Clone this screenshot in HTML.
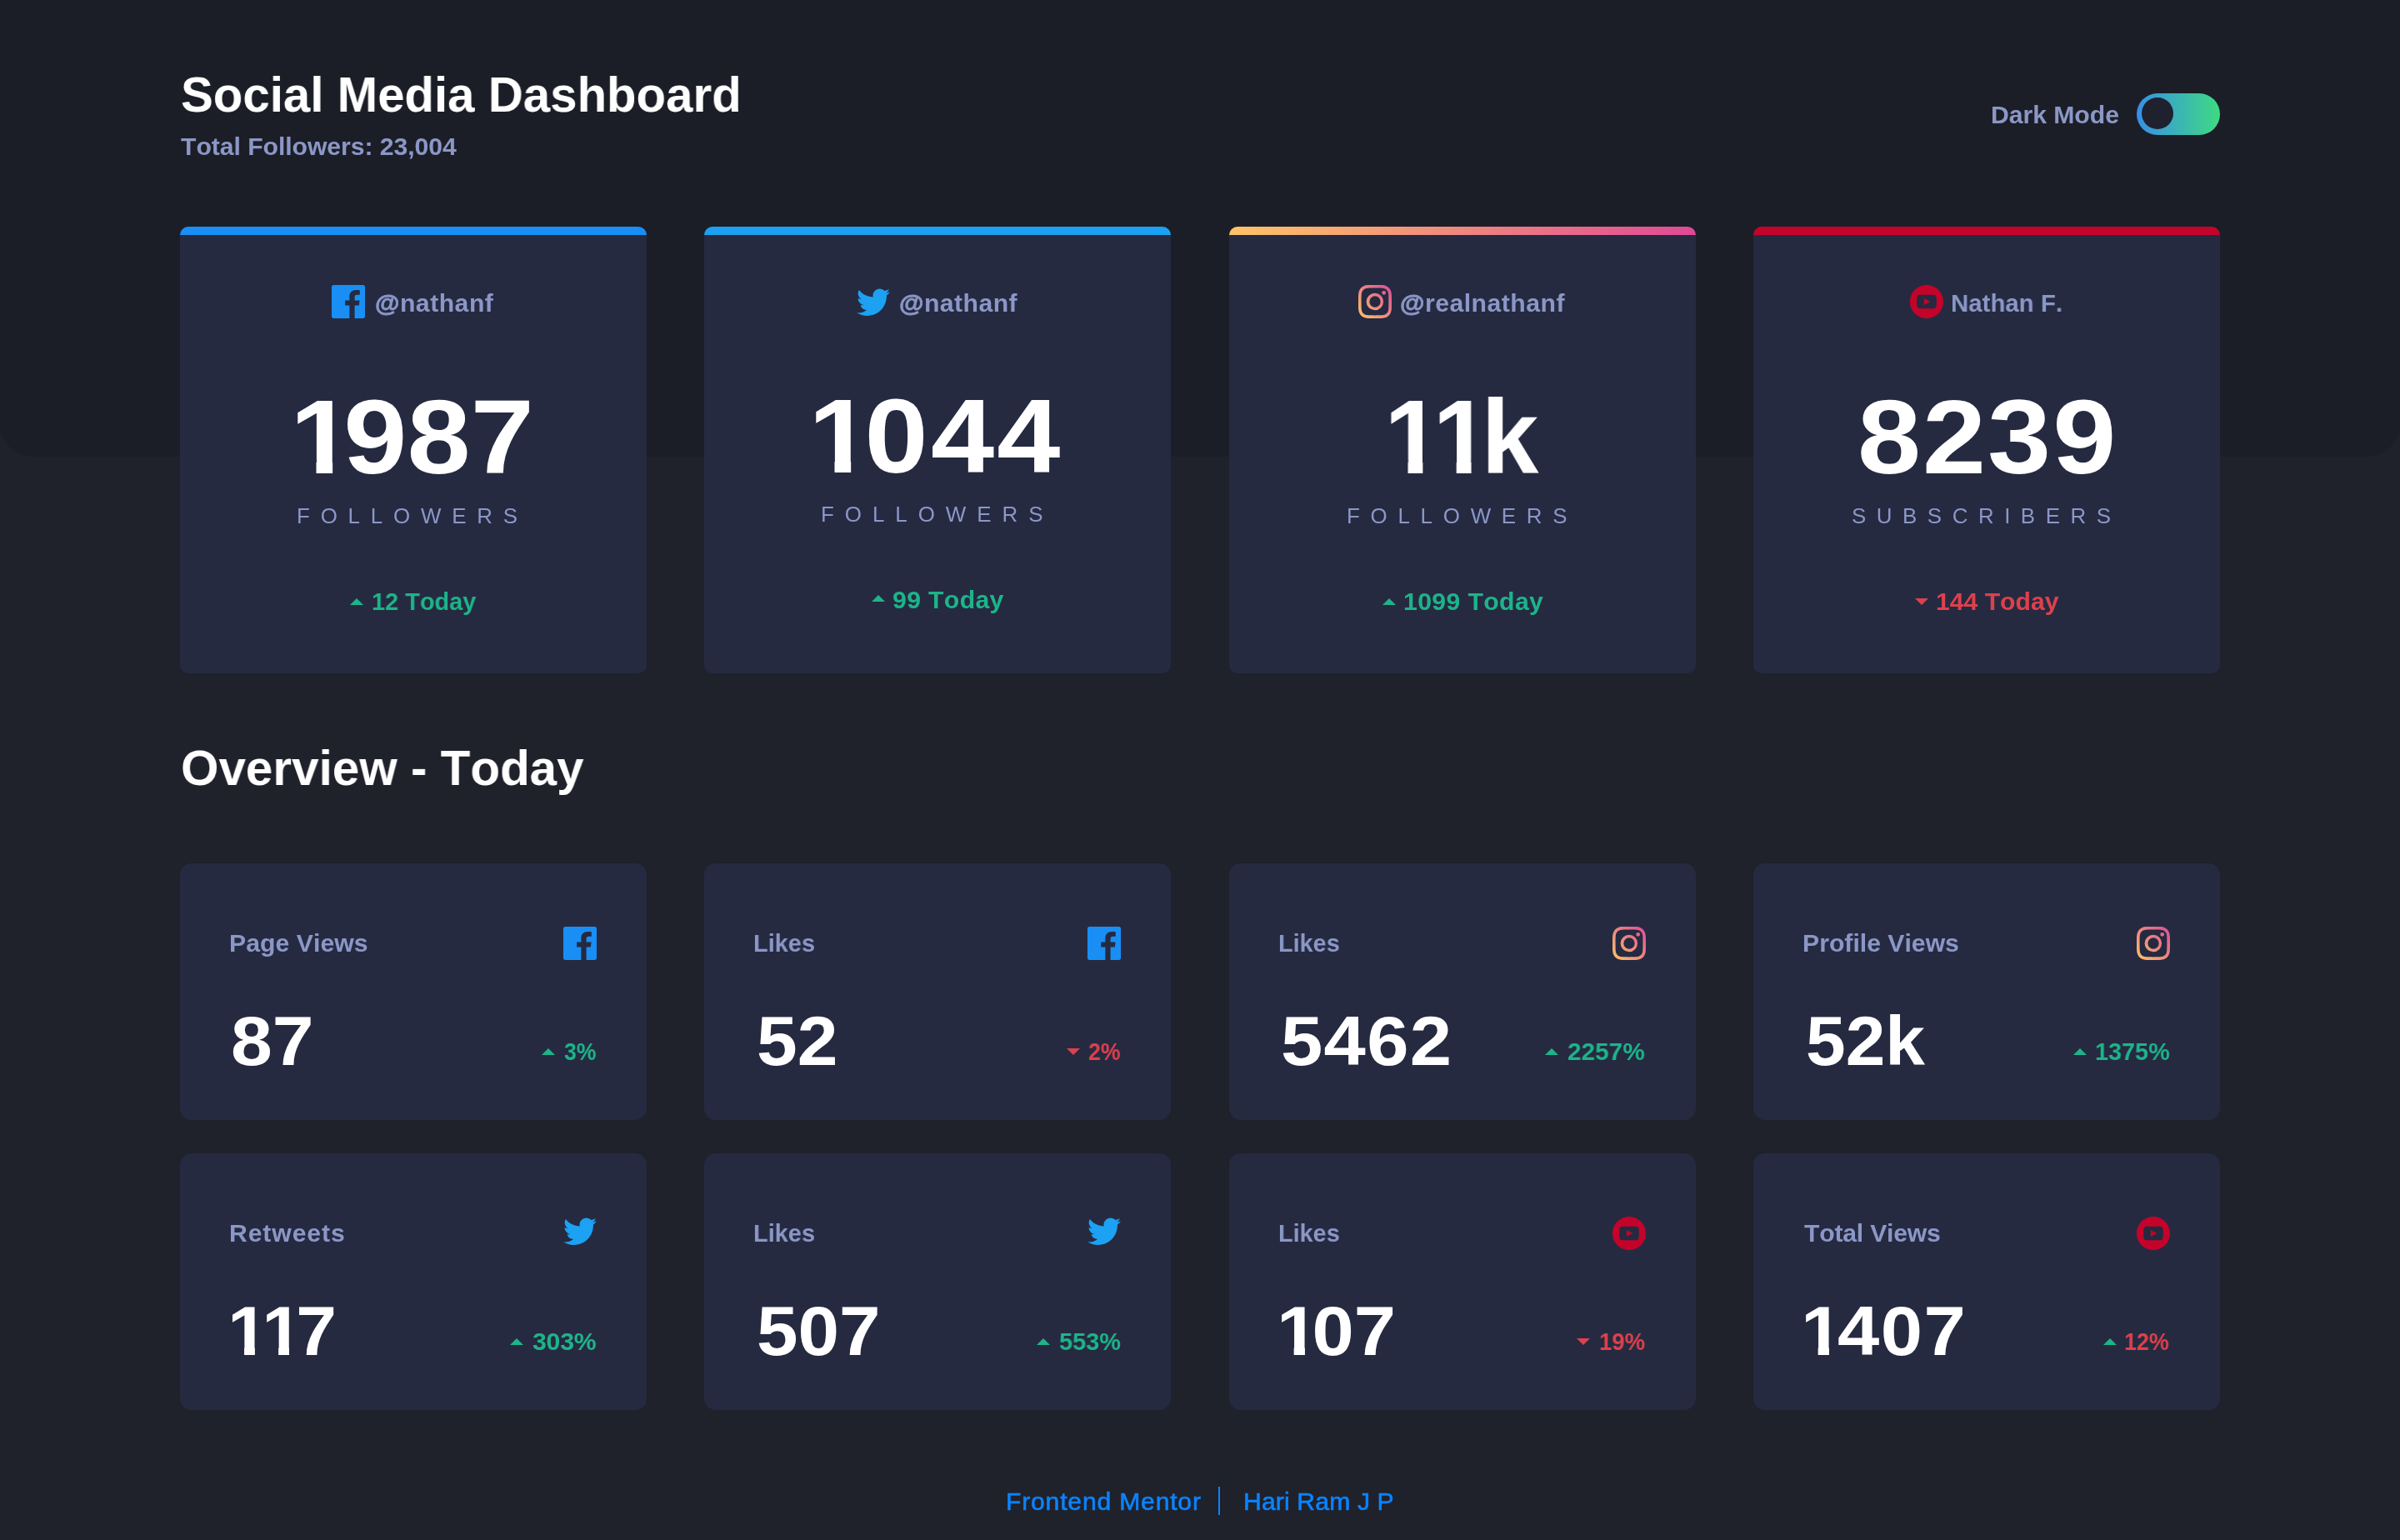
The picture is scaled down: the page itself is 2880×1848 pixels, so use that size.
<!DOCTYPE html>
<html lang="en">
<head>
<meta charset="utf-8">
<title>Social Media Dashboard</title>
<style>
*{box-sizing:border-box;margin:0;padding:0}
html,body{width:2880px;height:1848px;background:#1f212b;}
body{position:relative;font-family:"Liberation Sans",sans-serif;font-weight:700;font-kerning:none;}
.head{position:absolute;left:0;top:0;width:2880px;height:548px;background:#1c1e27;border-radius:0 0 40px 40px;}
.card{position:absolute;width:560px;background:#252a41;overflow:hidden;}
.big{height:536px;border-radius:10px;}
.small{height:308px;border-radius:14px;}
.bar{position:absolute;left:0;top:0;width:100%;height:10px;}
.t{position:absolute;white-space:nowrap;transform-origin:0 0;will-change:transform;}
.i{position:absolute;display:block;}
.at{-webkit-text-stroke:0.8px currentColor;}
.one{display:inline-block;}
.toggle{position:absolute;left:2564px;top:112px;width:100px;height:50px;border-radius:25px;background:linear-gradient(90deg,#378fe6,#3eda82);}
.knob{position:absolute;left:6px;top:5px;width:38px;height:38px;border-radius:50%;background:#1f212e;}
.sep{position:absolute;left:1461.5px;top:1784px;width:2.4px;height:34px;background:#0a84ff;}
</style>
</head>
<body>
<div class="head"></div>
<div class="toggle"><div class="knob"></div></div>
<div class="card big" style="left:216px;top:272px;"><div class="bar" style="background:#198ff5"></div></div>
<div class="card big" style="left:845.33px;top:272px;"><div class="bar" style="background:#1ca0f2"></div></div>
<div class="card big" style="left:1474.67px;top:272px;"><div class="bar" style="background:linear-gradient(90deg,#fdc468,#df4996)"></div></div>
<div class="card big" style="left:2104px;top:272px;"><div class="bar" style="background:#c4032a"></div></div>
<div class="card small" style="left:216px;top:1036px;"></div>
<div class="card small" style="left:845.33px;top:1036px;"></div>
<div class="card small" style="left:1474.67px;top:1036px;"></div>
<div class="card small" style="left:2104px;top:1036px;"></div>
<div class="card small" style="left:216px;top:1384px;"></div>
<div class="card small" style="left:845.33px;top:1384px;"></div>
<div class="card small" style="left:1474.67px;top:1384px;"></div>
<div class="card small" style="left:2104px;top:1384px;"></div>
<svg class="i" style="left:398px;top:342px" width="40" height="40" viewBox="0 0 20 20"><path fill="#198ff5" d="M18.896 0H1.104C.494 0 0 .494 0 1.104v17.793C0 19.506.494 20 1.104 20h9.58v-7.745H8.076V9.237h2.606V7.01c0-2.583 1.578-3.99 3.883-3.99 1.104 0 2.052.082 2.329.119v2.7h-1.598c-1.254 0-1.496.597-1.496 1.47v1.928h2.989l-.39 3.018h-2.6V20h5.098c.608 0 1.102-.494 1.102-1.104V1.104C20 .494 19.506 0 18.896 0z"/></svg>
<svg class="i" style="left:1028px;top:345.9px" width="40" height="34" viewBox="0 0 20 17"><path fill="#1da1f2" d="M20 2.172a8.192 8.192 0 01-2.357.646 4.11 4.11 0 001.805-2.27 8.22 8.22 0 01-2.606.996A4.096 4.096 0 0013.847.248c-2.65 0-4.596 2.472-3.998 5.037A11.648 11.648 0 011.392 1a4.109 4.109 0 001.27 5.478 4.086 4.086 0 01-1.858-.513c-.045 1.9 1.318 3.679 3.291 4.075a4.113 4.113 0 01-1.853.07 4.106 4.106 0 003.833 2.849A8.25 8.25 0 010 14.658a11.616 11.616 0 006.29 1.843c7.618 0 11.922-6.434 11.662-12.205A8.354 8.354 0 0020 2.172z"/></svg>
<svg class="i" style="left:1630px;top:342px" width="40" height="40" viewBox="0 0 20 20"><defs><linearGradient id="g1" x1="0%" y1="100%" x2="100%" y2="0%"><stop offset="0%" stop-color="#fdc366"/><stop offset="100%" stop-color="#db4c98"/></linearGradient></defs><path fill="url(#g1)" d="M10.003 0C7.285 0 6.945.012 5.878.06 4.813.11 4.086.278 3.45.525a4.902 4.902 0 00-1.772 1.153A4.9 4.9 0 00.525 3.45C.277 4.086.108 4.813.06 5.877.012 6.944 0 7.284 0 10s.012 3.056.06 4.122c.049 1.065.218 1.792.465 2.428a4.902 4.902 0 001.153 1.772 4.9 4.9 0 001.77 1.153c.637.247 1.364.416 2.428.465 1.067.048 1.407.06 4.123.06s3.056-.012 4.122-.06c1.065-.049 1.792-.218 2.428-.465a4.902 4.902 0 001.772-1.153 4.9 4.9 0 001.153-1.77c.247-.637.416-1.364.465-2.428.048-1.067.06-1.407.06-4.123s-.012-3.056-.06-4.122c-.049-1.065-.218-1.792-.465-2.428a4.902 4.902 0 00-1.153-1.772A4.9 4.9 0 0016.55.525C15.913.278 15.186.109 14.122.06 13.056.012 12.716 0 10 0h.003zm-.897 1.802h.897c2.67 0 2.987.01 4.04.058.976.045 1.505.207 1.858.344.466.182.8.399 1.15.748.35.35.566.684.748 1.15.137.353.3.882.344 1.857.048 1.055.058 1.37.058 4.04 0 2.668-.01 2.985-.058 4.04-.045.974-.207 1.503-.344 1.856-.182.466-.399.8-.748 1.15-.35.35-.683.566-1.15.747-.353.138-.882.3-1.857.345-1.054.048-1.37.058-4.04.058-2.67 0-2.987-.01-4.041-.058-.975-.045-1.504-.208-1.857-.345a3.098 3.098 0 01-1.15-.748 3.1 3.1 0 01-.748-1.15c-.137-.352-.3-.88-.344-1.856-.048-1.054-.058-1.37-.058-4.041 0-2.67.01-2.986.058-4.04.045-.975.207-1.504.344-1.857.182-.467.399-.8.748-1.15.35-.35.684-.566 1.15-.748.353-.137.882-.3 1.857-.345.922-.041 1.28-.054 3.144-.056v.003zm6.235 1.66a1.2 1.2 0 100 2.4 1.2 1.2 0 000-2.4zm-5.338 1.402a5.136 5.136 0 100 10.271 5.136 5.136 0 000-10.27zm0 1.802a3.333 3.333 0 110 6.667 3.333 3.333 0 010-6.667z"/></svg>
<svg class="i" style="left:2292px;top:342px" width="40" height="40" viewBox="0 0 20 20"><path fill="#c4032a" d="M10 0C4.477 0 0 4.477 0 10s4.477 10 10 10 10-4.477 10-10S15.523 0 10 0zm4.441 14.15H5.559c-.691 0-1.25-.559-1.25-1.25 0 0-.25-1.45-.25-2.9s.25-2.9.25-2.9c0-.691.559-1.25 1.25-1.25h8.882c.691 0 1.25.559 1.25 1.25 0 0 .25 1.45.25 2.9s-.25 2.9-.25 2.9c0 .691-.559 1.25-1.25 1.25z"/><path fill="#c4032a" d="M8.4 12V8l3.8 2z"/></svg>
<svg class="i" style="left:420.3px;top:718.3px" width="16" height="8" viewBox="0 0 8 4"><path fill="#1db489" d="M0 4l4-4 4 4z"/></svg>
<svg class="i" style="left:1046.2px;top:714.1px" width="16" height="8" viewBox="0 0 8 4"><path fill="#1db489" d="M0 4l4-4 4 4z"/></svg>
<svg class="i" style="left:1658.5px;top:718.3px" width="16" height="8" viewBox="0 0 8 4"><path fill="#1db489" d="M0 4l4-4 4 4z"/></svg>
<svg class="i" style="left:2298px;top:718.3px" width="16" height="8" viewBox="0 0 8 4"><path fill="#dc414c" d="M0 0l4 4 4-4z"/></svg>
<svg class="i" style="left:676px;top:1112px" width="40" height="40" viewBox="0 0 20 20"><path fill="#198ff5" d="M18.896 0H1.104C.494 0 0 .494 0 1.104v17.793C0 19.506.494 20 1.104 20h9.58v-7.745H8.076V9.237h2.606V7.01c0-2.583 1.578-3.99 3.883-3.99 1.104 0 2.052.082 2.329.119v2.7h-1.598c-1.254 0-1.496.597-1.496 1.47v1.928h2.989l-.39 3.018h-2.6V20h5.098c.608 0 1.102-.494 1.102-1.104V1.104C20 .494 19.506 0 18.896 0z"/></svg>
<svg class="i" style="left:650.2px;top:1258px" width="16" height="8" viewBox="0 0 8 4"><path fill="#1db489" d="M0 4l4-4 4 4z"/></svg>
<svg class="i" style="left:1305.33px;top:1112px" width="40" height="40" viewBox="0 0 20 20"><path fill="#198ff5" d="M18.896 0H1.104C.494 0 0 .494 0 1.104v17.793C0 19.506.494 20 1.104 20h9.58v-7.745H8.076V9.237h2.606V7.01c0-2.583 1.578-3.99 3.883-3.99 1.104 0 2.052.082 2.329.119v2.7h-1.598c-1.254 0-1.496.597-1.496 1.47v1.928h2.989l-.39 3.018h-2.6V20h5.098c.608 0 1.102-.494 1.102-1.104V1.104C20 .494 19.506 0 18.896 0z"/></svg>
<svg class="i" style="left:1280.2px;top:1258px" width="16" height="8" viewBox="0 0 8 4"><path fill="#dc414c" d="M0 0l4 4 4-4z"/></svg>
<svg class="i" style="left:1934.67px;top:1112px" width="40" height="40" viewBox="0 0 20 20"><defs><linearGradient id="g2" x1="0%" y1="100%" x2="100%" y2="0%"><stop offset="0%" stop-color="#fdc366"/><stop offset="100%" stop-color="#db4c98"/></linearGradient></defs><path fill="url(#g2)" d="M10.003 0C7.285 0 6.945.012 5.878.06 4.813.11 4.086.278 3.45.525a4.902 4.902 0 00-1.772 1.153A4.9 4.9 0 00.525 3.45C.277 4.086.108 4.813.06 5.877.012 6.944 0 7.284 0 10s.012 3.056.06 4.122c.049 1.065.218 1.792.465 2.428a4.902 4.902 0 001.153 1.772 4.9 4.9 0 001.77 1.153c.637.247 1.364.416 2.428.465 1.067.048 1.407.06 4.123.06s3.056-.012 4.122-.06c1.065-.049 1.792-.218 2.428-.465a4.902 4.902 0 001.772-1.153 4.9 4.9 0 001.153-1.77c.247-.637.416-1.364.465-2.428.048-1.067.06-1.407.06-4.123s-.012-3.056-.06-4.122c-.049-1.065-.218-1.792-.465-2.428a4.902 4.902 0 00-1.153-1.772A4.9 4.9 0 0016.55.525C15.913.278 15.186.109 14.122.06 13.056.012 12.716 0 10 0h.003zm-.897 1.802h.897c2.67 0 2.987.01 4.04.058.976.045 1.505.207 1.858.344.466.182.8.399 1.15.748.35.35.566.684.748 1.15.137.353.3.882.344 1.857.048 1.055.058 1.37.058 4.04 0 2.668-.01 2.985-.058 4.04-.045.974-.207 1.503-.344 1.856-.182.466-.399.8-.748 1.15-.35.35-.683.566-1.15.747-.353.138-.882.3-1.857.345-1.054.048-1.37.058-4.04.058-2.67 0-2.987-.01-4.041-.058-.975-.045-1.504-.208-1.857-.345a3.098 3.098 0 01-1.15-.748 3.1 3.1 0 01-.748-1.15c-.137-.352-.3-.88-.344-1.856-.048-1.054-.058-1.37-.058-4.041 0-2.67.01-2.986.058-4.04.045-.975.207-1.504.344-1.857.182-.467.399-.8.748-1.15.35-.35.684-.566 1.15-.748.353-.137.882-.3 1.857-.345.922-.041 1.28-.054 3.144-.056v.003zm6.235 1.66a1.2 1.2 0 100 2.4 1.2 1.2 0 000-2.4zm-5.338 1.402a5.136 5.136 0 100 10.271 5.136 5.136 0 000-10.27zm0 1.802a3.333 3.333 0 110 6.667 3.333 3.333 0 010-6.667z"/></svg>
<svg class="i" style="left:1854.3px;top:1258px" width="16" height="8" viewBox="0 0 8 4"><path fill="#1db489" d="M0 4l4-4 4 4z"/></svg>
<svg class="i" style="left:2564px;top:1112px" width="40" height="40" viewBox="0 0 20 20"><defs><linearGradient id="g3" x1="0%" y1="100%" x2="100%" y2="0%"><stop offset="0%" stop-color="#fdc366"/><stop offset="100%" stop-color="#db4c98"/></linearGradient></defs><path fill="url(#g3)" d="M10.003 0C7.285 0 6.945.012 5.878.06 4.813.11 4.086.278 3.45.525a4.902 4.902 0 00-1.772 1.153A4.9 4.9 0 00.525 3.45C.277 4.086.108 4.813.06 5.877.012 6.944 0 7.284 0 10s.012 3.056.06 4.122c.049 1.065.218 1.792.465 2.428a4.902 4.902 0 001.153 1.772 4.9 4.9 0 001.77 1.153c.637.247 1.364.416 2.428.465 1.067.048 1.407.06 4.123.06s3.056-.012 4.122-.06c1.065-.049 1.792-.218 2.428-.465a4.902 4.902 0 001.772-1.153 4.9 4.9 0 001.153-1.77c.247-.637.416-1.364.465-2.428.048-1.067.06-1.407.06-4.123s-.012-3.056-.06-4.122c-.049-1.065-.218-1.792-.465-2.428a4.902 4.902 0 00-1.153-1.772A4.9 4.9 0 0016.55.525C15.913.278 15.186.109 14.122.06 13.056.012 12.716 0 10 0h.003zm-.897 1.802h.897c2.67 0 2.987.01 4.04.058.976.045 1.505.207 1.858.344.466.182.8.399 1.15.748.35.35.566.684.748 1.15.137.353.3.882.344 1.857.048 1.055.058 1.37.058 4.04 0 2.668-.01 2.985-.058 4.04-.045.974-.207 1.503-.344 1.856-.182.466-.399.8-.748 1.15-.35.35-.683.566-1.15.747-.353.138-.882.3-1.857.345-1.054.048-1.37.058-4.04.058-2.67 0-2.987-.01-4.041-.058-.975-.045-1.504-.208-1.857-.345a3.098 3.098 0 01-1.15-.748 3.1 3.1 0 01-.748-1.15c-.137-.352-.3-.88-.344-1.856-.048-1.054-.058-1.37-.058-4.041 0-2.67.01-2.986.058-4.04.045-.975.207-1.504.344-1.857.182-.467.399-.8.748-1.15.35-.35.684-.566 1.15-.748.353-.137.882-.3 1.857-.345.922-.041 1.28-.054 3.144-.056v.003zm6.235 1.66a1.2 1.2 0 100 2.4 1.2 1.2 0 000-2.4zm-5.338 1.402a5.136 5.136 0 100 10.271 5.136 5.136 0 000-10.27zm0 1.802a3.333 3.333 0 110 6.667 3.333 3.333 0 010-6.667z"/></svg>
<svg class="i" style="left:2488.4px;top:1258px" width="16" height="8" viewBox="0 0 8 4"><path fill="#1db489" d="M0 4l4-4 4 4z"/></svg>
<svg class="i" style="left:676px;top:1461.2px" width="40" height="34" viewBox="0 0 20 17"><path fill="#1da1f2" d="M20 2.172a8.192 8.192 0 01-2.357.646 4.11 4.11 0 001.805-2.27 8.22 8.22 0 01-2.606.996A4.096 4.096 0 0013.847.248c-2.65 0-4.596 2.472-3.998 5.037A11.648 11.648 0 011.392 1a4.109 4.109 0 001.27 5.478 4.086 4.086 0 01-1.858-.513c-.045 1.9 1.318 3.679 3.291 4.075a4.113 4.113 0 01-1.853.07 4.106 4.106 0 003.833 2.849A8.25 8.25 0 010 14.658a11.616 11.616 0 006.29 1.843c7.618 0 11.922-6.434 11.662-12.205A8.354 8.354 0 0020 2.172z"/></svg>
<svg class="i" style="left:612px;top:1606px" width="16" height="8" viewBox="0 0 8 4"><path fill="#1db489" d="M0 4l4-4 4 4z"/></svg>
<svg class="i" style="left:1305.33px;top:1461.2px" width="40" height="34" viewBox="0 0 20 17"><path fill="#1da1f2" d="M20 2.172a8.192 8.192 0 01-2.357.646 4.11 4.11 0 001.805-2.27 8.22 8.22 0 01-2.606.996A4.096 4.096 0 0013.847.248c-2.65 0-4.596 2.472-3.998 5.037A11.648 11.648 0 011.392 1a4.109 4.109 0 001.27 5.478 4.086 4.086 0 01-1.858-.513c-.045 1.9 1.318 3.679 3.291 4.075a4.113 4.113 0 01-1.853.07 4.106 4.106 0 003.833 2.849A8.25 8.25 0 010 14.658a11.616 11.616 0 006.29 1.843c7.618 0 11.922-6.434 11.662-12.205A8.354 8.354 0 0020 2.172z"/></svg>
<svg class="i" style="left:1244.4px;top:1606px" width="16" height="8" viewBox="0 0 8 4"><path fill="#1db489" d="M0 4l4-4 4 4z"/></svg>
<svg class="i" style="left:1934.67px;top:1460px" width="40" height="40" viewBox="0 0 20 20"><path fill="#c4032a" d="M10 0C4.477 0 0 4.477 0 10s4.477 10 10 10 10-4.477 10-10S15.523 0 10 0zm4.441 14.15H5.559c-.691 0-1.25-.559-1.25-1.25 0 0-.25-1.45-.25-2.9s.25-2.9.25-2.9c0-.691.559-1.25 1.25-1.25h8.882c.691 0 1.25.559 1.25 1.25 0 0 .25 1.45.25 2.9s-.25 2.9-.25 2.9c0 .691-.559 1.25-1.25 1.25z"/><path fill="#c4032a" d="M8.4 12V8l3.8 2z"/></svg>
<svg class="i" style="left:1892.2px;top:1606px" width="16" height="8" viewBox="0 0 8 4"><path fill="#dc414c" d="M0 0l4 4 4-4z"/></svg>
<svg class="i" style="left:2564px;top:1460px" width="40" height="40" viewBox="0 0 20 20"><path fill="#c4032a" d="M10 0C4.477 0 0 4.477 0 10s4.477 10 10 10 10-4.477 10-10S15.523 0 10 0zm4.441 14.15H5.559c-.691 0-1.25-.559-1.25-1.25 0 0-.25-1.45-.25-2.9s.25-2.9.25-2.9c0-.691.559-1.25 1.25-1.25h8.882c.691 0 1.25.559 1.25 1.25 0 0 .25 1.45.25 2.9s-.25 2.9-.25 2.9c0 .691-.559 1.25-1.25 1.25z"/><path fill="#c4032a" d="M8.4 12V8l3.8 2z"/></svg>
<svg class="i" style="left:2524.2px;top:1606px" width="16" height="8" viewBox="0 0 8 4"><path fill="#1db489" d="M0 4l4-4 4 4z"/></svg>
<div class="t" style="left:217.03px;top:76px;font-size:59.7px;line-height:75px;letter-spacing:0px;color:#ffffff;transform:scaleX(0.9750);">Social Media Dashboard</div>
<div class="t" style="left:217px;top:155px;font-size:30.2px;line-height:41px;letter-spacing:-0.06px;color:#8b97c6;">Total Followers: 23,004</div>
<div class="t" style="left:2389.4px;top:117px;font-size:30.2px;line-height:41px;letter-spacing:-0.05px;color:#8b97c6;">Dark Mode</div>
<div class="t" style="left:449.7px;top:343px;font-size:30.2px;line-height:41px;letter-spacing:0.49px;color:#8b97c6;"><span class="at">@</span>nathanf</div>
<div class="t" style="left:348.44px;top:449px;font-size:126.7px;line-height:150px;letter-spacing:0.15px;color:#ffffff;transform:scaleX(1.0800);"><span class="one" style="clip-path:polygon(-380.1px -380.1px,380.1px -380.1px,380.1px 102.30px,47.36px 102.30px,47.36px 155px,29.17px 155px,29.17px 102.30px,-380.1px 102.30px);margin-right:-11.02px">1</span>987</div>
<div class="t" style="left:355.9px;top:601px;font-size:25.9px;line-height:36px;letter-spacing:12.81px;color:#8b97c6;font-weight:400;">FOLLOWERS</div>
<div class="t" style="left:445.74px;top:701px;font-size:30.2px;line-height:41px;letter-spacing:0px;color:#1db489;transform:scaleX(0.9579);">12 Today</div>
<div class="t" style="left:1079px;top:343px;font-size:30.2px;line-height:41px;letter-spacing:0.46px;color:#8b97c6;"><span class="at">@</span>nathanf</div>
<div class="t" style="left:970.44px;top:448px;font-size:126.7px;line-height:150px;letter-spacing:3.08px;color:#ffffff;transform:scaleX(1.0800);"><span class="one" style="clip-path:polygon(-380.1px -380.1px,380.1px -380.1px,380.1px 102.30px,47.36px 102.30px,47.36px 155px,29.17px 155px,29.17px 102.30px,-380.1px 102.30px);margin-right:-11.02px">1</span>044</div>
<div class="t" style="left:985.2px;top:599px;font-size:25.9px;line-height:36px;letter-spacing:12.98px;color:#8b97c6;font-weight:400;">FOLLOWERS</div>
<div class="t" style="left:1071.3px;top:699px;font-size:30.2px;line-height:41px;letter-spacing:0.36px;color:#1db489;">99 Today</div>
<div class="t" style="left:1680.3px;top:343px;font-size:30.2px;line-height:41px;letter-spacing:0.48px;color:#8b97c6;"><span class="at">@</span>realnathanf</div>
<div class="t" style="left:1660.85px;top:449px;font-size:126.7px;line-height:150px;letter-spacing:0px;color:#ffffff;transform:scaleX(0.9783);"><span class="one" style="clip-path:polygon(-380.1px -380.1px,380.1px -380.1px,380.1px 102.30px,47.36px 102.30px,47.36px 155px,29.17px 155px,29.17px 102.30px,-380.1px 102.30px);margin-right:-11.02px">1</span><span class="one" style="clip-path:polygon(-380.1px -380.1px,380.1px -380.1px,380.1px 102.30px,47.36px 102.30px,47.36px 155px,29.17px 155px,29.17px 102.30px,-380.1px 102.30px);margin-right:-11.02px">1</span>k</div>
<div class="t" style="left:1615.6px;top:601px;font-size:25.9px;line-height:36px;letter-spacing:12.75px;color:#8b97c6;font-weight:400;">FOLLOWERS</div>
<div class="t" style="left:1683.7px;top:701px;font-size:30.2px;line-height:41px;letter-spacing:0.38px;color:#1db489;">1099 Today</div>
<div class="t" style="left:2341.45px;top:343px;font-size:30.2px;line-height:41px;letter-spacing:0px;color:#8b97c6;transform:scaleX(0.9744);">Nathan F.</div>
<div class="t" style="left:2229.18px;top:449px;font-size:126.7px;line-height:150px;letter-spacing:1.81px;color:#ffffff;transform:scaleX(1.0800);">8239</div>
<div class="t" style="left:2222.2px;top:601px;font-size:25.9px;line-height:36px;letter-spacing:12.54px;color:#8b97c6;font-weight:400;">SUBSCRIBERS</div>
<div class="t" style="left:2322.9px;top:701px;font-size:30.2px;line-height:41px;letter-spacing:-0.02px;color:#dc414c;">144 Today</div>
<div class="t" style="left:216.54px;top:884px;font-size:59.7px;line-height:75px;letter-spacing:0px;color:#ffffff;transform:scaleX(0.9785);">Overview - Today</div>
<div class="t" style="left:274.6px;top:1111px;font-size:30.2px;line-height:41px;letter-spacing:0.05px;color:#8b97c6;">Page Views</div>
<div class="t" style="left:277.06px;top:1198px;font-size:83.7px;line-height:102px;letter-spacing:0px;color:#ffffff;transform:scaleX(1.0692);">87</div>
<div class="t" style="left:676.8px;top:1241px;font-size:30.2px;line-height:41px;letter-spacing:0px;color:#1db489;transform:scaleX(0.8815);">3%</div>
<div class="t" style="left:904.18px;top:1111px;font-size:30.2px;line-height:41px;letter-spacing:0px;color:#8b97c6;transform:scaleX(0.9583);">Likes</div>
<div class="t" style="left:907.61px;top:1198px;font-size:83.7px;line-height:102px;letter-spacing:0px;color:#ffffff;transform:scaleX(1.0458);">52</div>
<div class="t" style="left:1305.91px;top:1241px;font-size:30.2px;line-height:41px;letter-spacing:0px;color:#dc414c;transform:scaleX(0.8857);">2%</div>
<div class="t" style="left:1533.69px;top:1111px;font-size:30.2px;line-height:41px;letter-spacing:0px;color:#8b97c6;transform:scaleX(0.9542);">Likes</div>
<div class="t" style="left:1537.24px;top:1198px;font-size:83.7px;line-height:102px;letter-spacing:1.22px;color:#ffffff;transform:scaleX(1.0800);">5462</div>
<div class="t" style="left:1881.01px;top:1241px;font-size:30.2px;line-height:41px;letter-spacing:0px;color:#1db489;transform:scaleX(0.9865);">2257%</div>
<div class="t" style="left:2162.6px;top:1111px;font-size:30.2px;line-height:41px;letter-spacing:-0px;color:#8b97c6;">Profile Views</div>
<div class="t" style="left:2166.85px;top:1198px;font-size:83.7px;line-height:102px;letter-spacing:0px;color:#ffffff;transform:scaleX(1.0240);">52k</div>
<div class="t" style="left:2513.55px;top:1241px;font-size:30.2px;line-height:41px;letter-spacing:0px;color:#1db489;transform:scaleX(0.9543);">1375%</div>
<div class="t" style="left:274.6px;top:1459px;font-size:30.2px;line-height:41px;letter-spacing:0.89px;color:#8b97c6;">Retweets</div>
<div class="t" style="left:273.26px;top:1546px;font-size:83.7px;line-height:102px;letter-spacing:0px;color:#ffffff;transform:scaleX(1.0470);"><span class="one" style="clip-path:polygon(-251.1px -251.1px,251.1px -251.1px,251.1px 68.97px,31.42px 68.97px,31.42px 107px,19.14px 107px,19.14px 68.97px,-251.1px 68.97px);margin-right:-7.28px">1</span><span class="one" style="clip-path:polygon(-251.1px -251.1px,251.1px -251.1px,251.1px 68.97px,31.42px 68.97px,31.42px 107px,19.14px 107px,19.14px 68.97px,-251.1px 68.97px);margin-right:-7.28px">1</span>7</div>
<div class="t" style="left:638.6px;top:1589px;font-size:30.2px;line-height:41px;letter-spacing:-0.19px;color:#1db489;">303%</div>
<div class="t" style="left:904.18px;top:1459px;font-size:30.2px;line-height:41px;letter-spacing:0px;color:#8b97c6;transform:scaleX(0.9583);">Likes</div>
<div class="t" style="left:907.57px;top:1546px;font-size:83.7px;line-height:102px;letter-spacing:0px;color:#ffffff;transform:scaleX(1.0635);">507</div>
<div class="t" style="left:1270.5px;top:1589px;font-size:30.2px;line-height:41px;letter-spacing:0px;color:#1db489;transform:scaleX(0.9591);">553%</div>
<div class="t" style="left:1533.69px;top:1459px;font-size:30.2px;line-height:41px;letter-spacing:0px;color:#8b97c6;transform:scaleX(0.9542);">Likes</div>
<div class="t" style="left:1532.3px;top:1546px;font-size:83.7px;line-height:102px;letter-spacing:0px;color:#ffffff;transform:scaleX(1.0799);"><span class="one" style="clip-path:polygon(-251.1px -251.1px,251.1px -251.1px,251.1px 68.97px,31.42px 68.97px,31.42px 107px,19.14px 107px,19.14px 68.97px,-251.1px 68.97px);margin-right:-7.28px">1</span>07</div>
<div class="t" style="left:1918.59px;top:1589px;font-size:30.2px;line-height:41px;letter-spacing:0px;color:#dc414c;transform:scaleX(0.9131);">19%</div>
<div class="t" style="left:2165.3px;top:1459px;font-size:30.2px;line-height:41px;letter-spacing:-0.22px;color:#8b97c6;">Total Views</div>
<div class="t" style="left:2161.1px;top:1546px;font-size:83.7px;line-height:102px;letter-spacing:1.4px;color:#ffffff;transform:scaleX(1.0800);"><span class="one" style="clip-path:polygon(-251.1px -251.1px,251.1px -251.1px,251.1px 68.97px,31.42px 68.97px,31.42px 107px,19.14px 107px,19.14px 68.97px,-251.1px 68.97px);margin-right:-7.28px">1</span>407</div>
<div class="t" style="left:2549.41px;top:1589px;font-size:30.2px;line-height:41px;letter-spacing:0px;color:#dc414c;transform:scaleX(0.8913);">12%</div>
<div class="t" style="left:1207.2px;top:1781px;font-size:30.1px;line-height:41px;letter-spacing:0.82px;color:#0a84ff;font-weight:400;-webkit-text-stroke:0.6px currentColor;">Frontend Mentor</div>
<div class="t" style="left:1492.2px;top:1781px;font-size:30.1px;line-height:41px;letter-spacing:0.16px;color:#0a84ff;font-weight:400;-webkit-text-stroke:0.6px currentColor;">Hari Ram J P</div>
<div class="sep"></div>
<script>(function(){var r=window.devicePixelRatio||1;if(r>1&&Math.abs(window.innerWidth*r-2880)<40){document.documentElement.style.zoom=1/r;}})();</script>
</body>
</html>
